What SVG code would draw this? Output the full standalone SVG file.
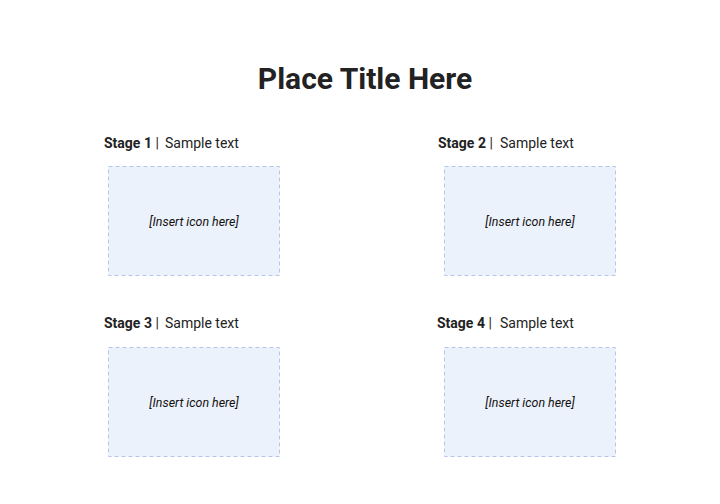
<svg xmlns="http://www.w3.org/2000/svg" width="720" height="504" viewBox="0 0 720 504">
<style>
.title{font-family:Roboto,"Liberation Sans",sans-serif;font-weight:bold;font-size:30px;fill:#222;}
.stage{font-family:Roboto,"Liberation Sans",sans-serif;font-size:14px;fill:#222;}
.b{font-weight:bold;}
.box{fill:#ecf2fb;stroke:#b4c7ea;stroke-width:1;stroke-dasharray:4 3;}
.ph{font-family:Roboto,"Liberation Sans",sans-serif;font-style:italic;font-size:12.4px;fill:#111;text-anchor:middle;}
</style>
<rect width="720" height="504" fill="#fff"/>
<text class="title" x="365" y="89" text-anchor="middle">Place Title Here</text>
<g id="stage1">
<text class="stage" x="104" y="148"><tspan class="b">Stage 1 </tspan>|  <tspan x="165">Sample text</tspan></text>
<rect class="box" x="108.5" y="166.5" width="171" height="109"/>
<text class="ph" x="194" y="226">[Insert icon here]</text>
</g>
<g id="stage2">
<text class="stage" x="438" y="148"><tspan class="b">Stage 2</tspan> | <tspan x="500">Sample text</tspan></text>
<rect class="box" x="444.5" y="166.5" width="171" height="109"/>
<text class="ph" x="530" y="226">[Insert icon here]</text>
</g>
<g id="stage3">
<text class="stage" x="104" y="328"><tspan class="b">Stage 3</tspan> | <tspan x="165">Sample text</tspan></text>
<rect class="box" x="108.5" y="347.5" width="171" height="109"/>
<text class="ph" x="194" y="407">[Insert icon here]</text>
</g>
<g id="stage4">
<text class="stage" x="437" y="328"><tspan class="b">Stage 4</tspan> | <tspan x="500">Sample text</tspan></text>
<rect class="box" x="444.5" y="347.5" width="171" height="109"/>
<text class="ph" x="530" y="407">[Insert icon here]</text>
</g>
<g id="connectors"></g>
</svg>
